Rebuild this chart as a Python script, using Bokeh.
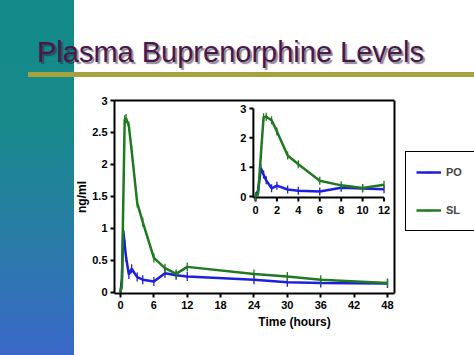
import numpy as np
from bokeh.plotting import figure
from bokeh.layouts import column
from bokeh.models import Range1d, Legend, LegendItem, FixedTicker, Div, LinearAxis, Span
from bokeh.core.properties import value
from bokeh.embed import file_html
from bokeh.resources import INLINE

# ---------------- data ----------------
time_h = [0, 0.25, 0.5, 0.75, 1, 1.5, 2, 3, 4, 6, 8, 10, 12, 24, 30, 36, 48]
po_ngml = [0.0, 0.22, 0.97, 0.75, 0.55, 0.28, 0.37, 0.24, 0.20, 0.17, 0.30, 0.27, 0.25, 0.20, 0.16, 0.15, 0.14]
sl_ngml = [0.0, 0.12, 1.42, 2.70, 2.72, 2.60, 2.22, 1.40, 1.10, 0.54, 0.38, 0.29, 0.40, 0.29, 0.25, 0.20, 0.15]
series_names = ["PO", "SL"]

main_xticks = [0, 6, 12, 18, 24, 30, 36, 42, 48]
main_yticks = [0, 0.5, 1, 1.5, 2, 2.5, 3]
main_ytick_labels = ["0", "0.5", "1", "1.5", "2", "2.5", "3"]
inset_xticks = [0, 2, 4, 6, 8, 10, 12]
inset_yticks = [0, 1, 2, 3]
inset_tmax = 12

title_text = "Plasma Buprenorphine Levels"
x_label = "Time (hours)"
y_label = "ng/ml"

# ---------------- styles ----------------
W, H = 474, 355
TOP_H = 85
FONT = "Liberation Sans"
BLUE = "#1e1ede"
GREEN = "#1f7a1f"
X_LO, X_HI = -1.08, 49.26      # visible extent of the main time axis (box)
Y_LO, Y_HI = -0.016, 3.0

# slide decoration (teal side bar + olive rule) painted as the page background
slide_background = (
    "linear-gradient(#a6a23e, #a6a23e) 28px 72px / 446px 5px no-repeat, "
    "linear-gradient(to bottom, #148a8a 0%, #178a8c 35%, #2a7aa8 70%, #3a68ca 100%) "
    "0px 0px / 74px 100% no-repeat, #ffffff"
)

title_div = Div(
    text=('<div style="margin:0;padding:38px 0 0 37px;white-space:nowrap;'
          'font-family:\'Liberation Sans\',Arial,sans-serif;font-size:29px;line-height:29px;'
          'font-weight:normal;color:#4a164c;'
          'text-shadow:2px 2px 1px rgba(40,40,55,0.55);">' + title_text + '</div>'),
    width=W, height=TOP_H, margin=0)


def style_axis(ax, fs="11px"):
    ax.axis_line_width = 2
    ax.axis_line_color = "black"
    ax.major_tick_line_width = 2
    ax.major_tick_out = 4
    ax.major_tick_in = 0
    ax.minor_tick_line_color = None
    ax.major_label_text_font = FONT
    ax.major_label_text_font_style = "bold"
    ax.major_label_text_font_size = fs
    ax.major_label_text_color = "black"
    ax.major_label_standoff = 3
    ax.axis_label_text_font = FONT
    ax.axis_label_text_font_style = "bold"
    ax.axis_label_text_font_size = "12px"
    ax.axis_label_text_color = "black"
    ax.axis_label_standoff = 3


# ---------------- main chart ----------------
# the frame runs to the right edge so that the legend (outside the box) is not clipped
px_per_h = 280 / (X_HI - X_LO)
p = figure(width=W, height=H - TOP_H,
           x_range=Range1d(X_LO, X_LO + 360 / px_per_h), y_range=Range1d(Y_LO, Y_HI),
           min_border_left=114, min_border_right=0, min_border_top=100 - TOP_H,
           min_border_bottom=62,
           toolbar_location=None, output_backend="svg",
           border_fill_alpha=0, background_fill_color="white",
           outline_line_color=None, margin=0)
p.grid.visible = False
for ax in p.axis:
    style_axis(ax)
p.yaxis.axis_label_standoff = 0
p.xaxis.bounds = (X_LO, X_HI)
p.yaxis.bounds = (Y_LO, Y_HI)
p.xaxis.ticker = FixedTicker(ticks=main_xticks)
p.yaxis.ticker = FixedTicker(ticks=main_yticks)
p.yaxis.major_label_overrides = {t: l for t, l in zip(main_yticks, main_ytick_labels)}
p.xaxis.axis_label = x_label
p.yaxis.axis_label = y_label

# top and right sides of the box
top_ax = LinearAxis(bounds=(X_LO, X_HI), ticker=FixedTicker(ticks=[]),
                    axis_line_width=2, axis_line_color="black",
                    major_tick_line_color=None, minor_tick_line_color=None)
p.add_layout(top_ax, "above")
p.add_layout(Span(location=X_HI, dimension="height", line_color="black", line_width=2))

po_line = p.line(time_h, po_ngml, line_color=BLUE, line_width=2.5)
po_mark = p.scatter(time_h, po_ngml, marker="dash", angle=np.pi / 2, size=9,
                    line_color=BLUE, line_width=1.3)
sl_line = p.line(time_h, sl_ngml, line_color=GREEN, line_width=2.5)
sl_mark = p.scatter(time_h, sl_ngml, marker="dash", angle=np.pi / 2, size=9,
                    line_color=GREEN, line_width=1.3)

legend = Legend(items=[LegendItem(label=series_names[0], renderers=[po_line, po_mark]),
                       LegendItem(label=series_names[1], renderers=[sl_line, sl_mark])],
                location=(291, 62), orientation="vertical",
                border_line_color="black", border_line_width=1.5, border_line_alpha=1,
                background_fill_color="white", background_fill_alpha=1,
                padding=10, spacing=18, glyph_width=25, glyph_height=20,
                label_height=20, label_standoff=5, margin=0,
                label_text_font=FONT, label_text_font_style="bold",
                label_text_font_size="11px")
p.add_layout(legend)

# ---------------- inset (first 12 hours), drawn on its own ranges ----------------
p.extra_x_ranges = {"ix": Range1d(-13.17, 20.45)}
p.extra_y_ranges = {"iy": Range1d(-3.307, 3.273)}
IN_X0, IN_X1 = -0.2, 12.0     # inset axis extents (data units)
IN_Y0, IN_Y1 = -0.03, 3.0
TICK = 0.37                   # ~4 px in inset time units
TICKY = 0.14                  # ~4 px in inset ng/ml units
kw = dict(x_range_name="ix", y_range_name="iy")

p.segment(x0=[IN_X0, IN_X0], y0=[IN_Y0, IN_Y0], x1=[IN_X0, IN_X1], y1=[IN_Y1, IN_Y0],
          line_color="black", line_width=2, **kw)
p.segment(x0=[IN_X0] * len(inset_yticks), y0=inset_yticks,
          x1=[IN_X0 - TICK] * len(inset_yticks), y1=inset_yticks,
          line_color="black", line_width=2, **kw)
p.segment(x0=inset_xticks, y0=[IN_Y0] * len(inset_xticks),
          x1=inset_xticks, y1=[IN_Y0 - TICKY] * len(inset_xticks),
          line_color="black", line_width=2, **kw)
p.text(x=[IN_X0] * len(inset_yticks), y=inset_yticks, text=[str(v) for v in inset_yticks],
       x_offset=-7, text_align="right", text_baseline="middle",
       text_font=value(FONT), text_font_style="bold", text_font_size="11px",
       text_color="black", **kw)
p.text(x=inset_xticks, y=[IN_Y0] * len(inset_xticks), text=[str(v) for v in inset_xticks],
       y_offset=9, text_align="center", text_baseline="top",
       text_font=value(FONT), text_font_style="bold", text_font_size="11px",
       text_color="black", **kw)

mask = [t <= inset_tmax for t in time_h]
t_in = [t for t, m in zip(time_h, mask) if m]
po_in = [v for v, m in zip(po_ngml, mask) if m]
sl_in = [v for v, m in zip(sl_ngml, mask) if m]
p.line(t_in, po_in, line_color=BLUE, line_width=2.5, **kw)
p.scatter(t_in, po_in, marker="dash", angle=np.pi / 2, size=8, line_color=BLUE, line_width=1.3, **kw)
p.line(t_in, sl_in, line_color=GREEN, line_width=2.5, **kw)
p.scatter(t_in, sl_in, marker="dash", angle=np.pi / 2, size=8, line_color=GREEN, line_width=1.3, **kw)

root = column(title_div, p, spacing=0, width=W, height=H)
root.styles = {"background": slide_background}

open("out.html", "w").write(file_html(root, INLINE))
